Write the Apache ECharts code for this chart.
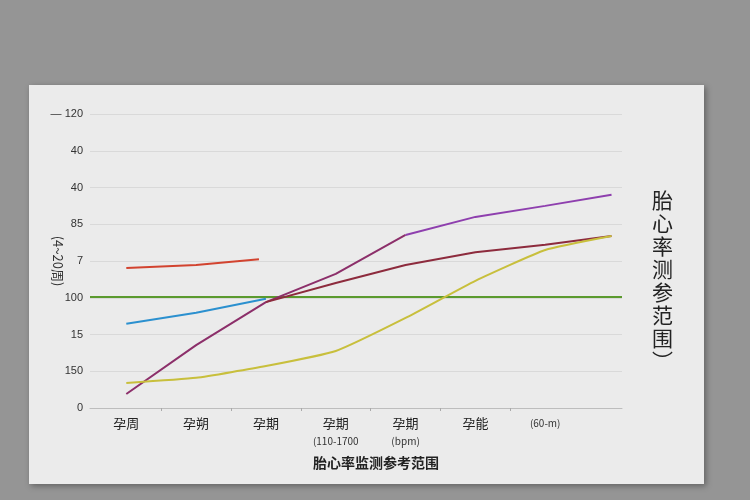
<!DOCTYPE html>
<html><head><meta charset="utf-8">
<script src="https://cdn.jsdelivr.net/npm/echarts@6/dist/echarts.min.js"></script>
<style>html,body{margin:0;padding:0;background:#959595;}#c{width:750px;height:500px;}</style>
</head><body><div id="c"></div>
<script>
var categories = ['孕周', '孕朔', '孕期', '孕期\n{s|(110-1700}', '孕期\n{s|(bpm)}', '孕能', '{s|(60-m)}'];
var yTickLabels = ['0', '150', '15', '100', '\u3000\u3000 7', '85', '40', '40', '\u2014 120'];
var redX = [0, 1, 1.9];
var redY = [3.81, 3.89, 4.05];
var blueX = [0, 1, 2];
var blueY = [2.29, 2.59, 2.97];
var greenX = [-0.52, 7.1];
var greenY = [3.02, 3.02];
var plumX = [0, 1, 2, 3, 4];
var plumY = [0.38, 1.71, 2.88, 3.65, 4.71];
var purpleX = [4, 5, 6, 6.95];
var purpleY = [4.71, 5.20, 5.50, 5.80];
var maroonX = [2, 3, 4, 5, 6, 6.95];
var maroonY = [2.88, 3.40, 3.89, 4.24, 4.44, 4.68];
var yellowX = [0, 1, 2, 3, 4, 5, 6, 6.95];
var yellowY = [0.68, 0.82, 1.14, 1.55, 2.45, 3.46, 4.30, 4.68];

function pairs(xs, ys) { return xs.map(function (x, i) { return [x, ys[i]]; }); }
function line(name, xs, ys, color, smooth) {
  return { name: name, type: 'line', data: pairs(xs, ys), showSymbol: false, smooth: smooth ? 0.15 : false,
    lineStyle: { color: color, width: 2 }, itemStyle: { color: color }, z: 3 };
}

var chart = echarts.init(document.getElementById('c'));
chart.setOption({
  animation: false,
  graphic: [{ type: 'rect', shape: { x: 29, y: 85, width: 675, height: 399 }, z: -10,
    style: { fill: '#ebebeb', shadowBlur: 6, shadowColor: 'rgba(0,0,0,0.35)', shadowOffsetX: 2, shadowOffsetY: 2 } }],
  title: [
    { text: '胎\n心\n率\n测\n参\n范\n围\n︶', left: 647, top: 184,
      textStyle: { fontSize: 21, fontWeight: 'normal', color: '#222', lineHeight: 23, fontFamily: 'Noto Sans CJK SC' } },
    { text: '胎心率监测参考范围', top: 451, left: 308,
      textStyle: { fontSize: 14, fontWeight: 'bold', color: '#222', fontFamily: 'Noto Sans CJK SC' } }
  ],
  grid: { left: 90, right: 128, top: 114, bottom: 92 },
  xAxis: {
    type: 'value', min: -0.52, max: 7.1,
    axisLine: { show: true, lineStyle: { color: '#bdbdbd', width: 1 } },
    axisTick: { show: true, length: 3, customValues: [0.5, 1.5, 2.5, 3.5, 4.5, 5.5], lineStyle: { color: '#aaa' } },
    splitLine: { show: false },
    axisLabel: { customValues: [0, 1, 2, 3, 4, 5, 6], margin: 6, color: '#222', fontSize: 13,
      fontFamily: 'Noto Sans CJK SC', lineHeight: 18,
      formatter: function (v) { return categories[Math.round(v)]; },
      rich: { s: { fontSize: 10, color: '#333', lineHeight: 18, fontFamily: 'Noto Sans CJK SC' } } }
  },
  yAxis: {
    type: 'value', min: 0, max: 8, interval: 1,
    name: '(4~20周)', nameLocation: 'middle', nameGap: 26, nameRotate: -90, nameMoveOverlap: false,
    nameTextStyle: { fontSize: 13, color: '#333', fontFamily: 'Noto Sans CJK SC', padding: [0, 0, 20, 0] },
    axisLine: { show: false }, axisTick: { show: false },
    splitLine: { lineStyle: { color: '#d9d9d9', width: 1 } },
    axisLabel: { color: '#333', fontSize: 11, margin: 7,
      formatter: function (v) { return yTickLabels[Math.round(v)]; } }
  },
  series: [
    line('green', greenX, greenY, '#5b9a2e', false),
    line('red', redX, redY, '#d2432f', false),
    line('blue', blueX, blueY, '#2b90cf', false),
    line('plum', plumX, plumY, '#8c2f6a', false),
    line('purple', purpleX, purpleY, '#8e3fae', false),
    line('maroon', maroonX, maroonY, '#8d2b3d', false),
    line('yellow', yellowX, yellowY, '#c8bf3c', true)
  ]
});
</script></body></html>
